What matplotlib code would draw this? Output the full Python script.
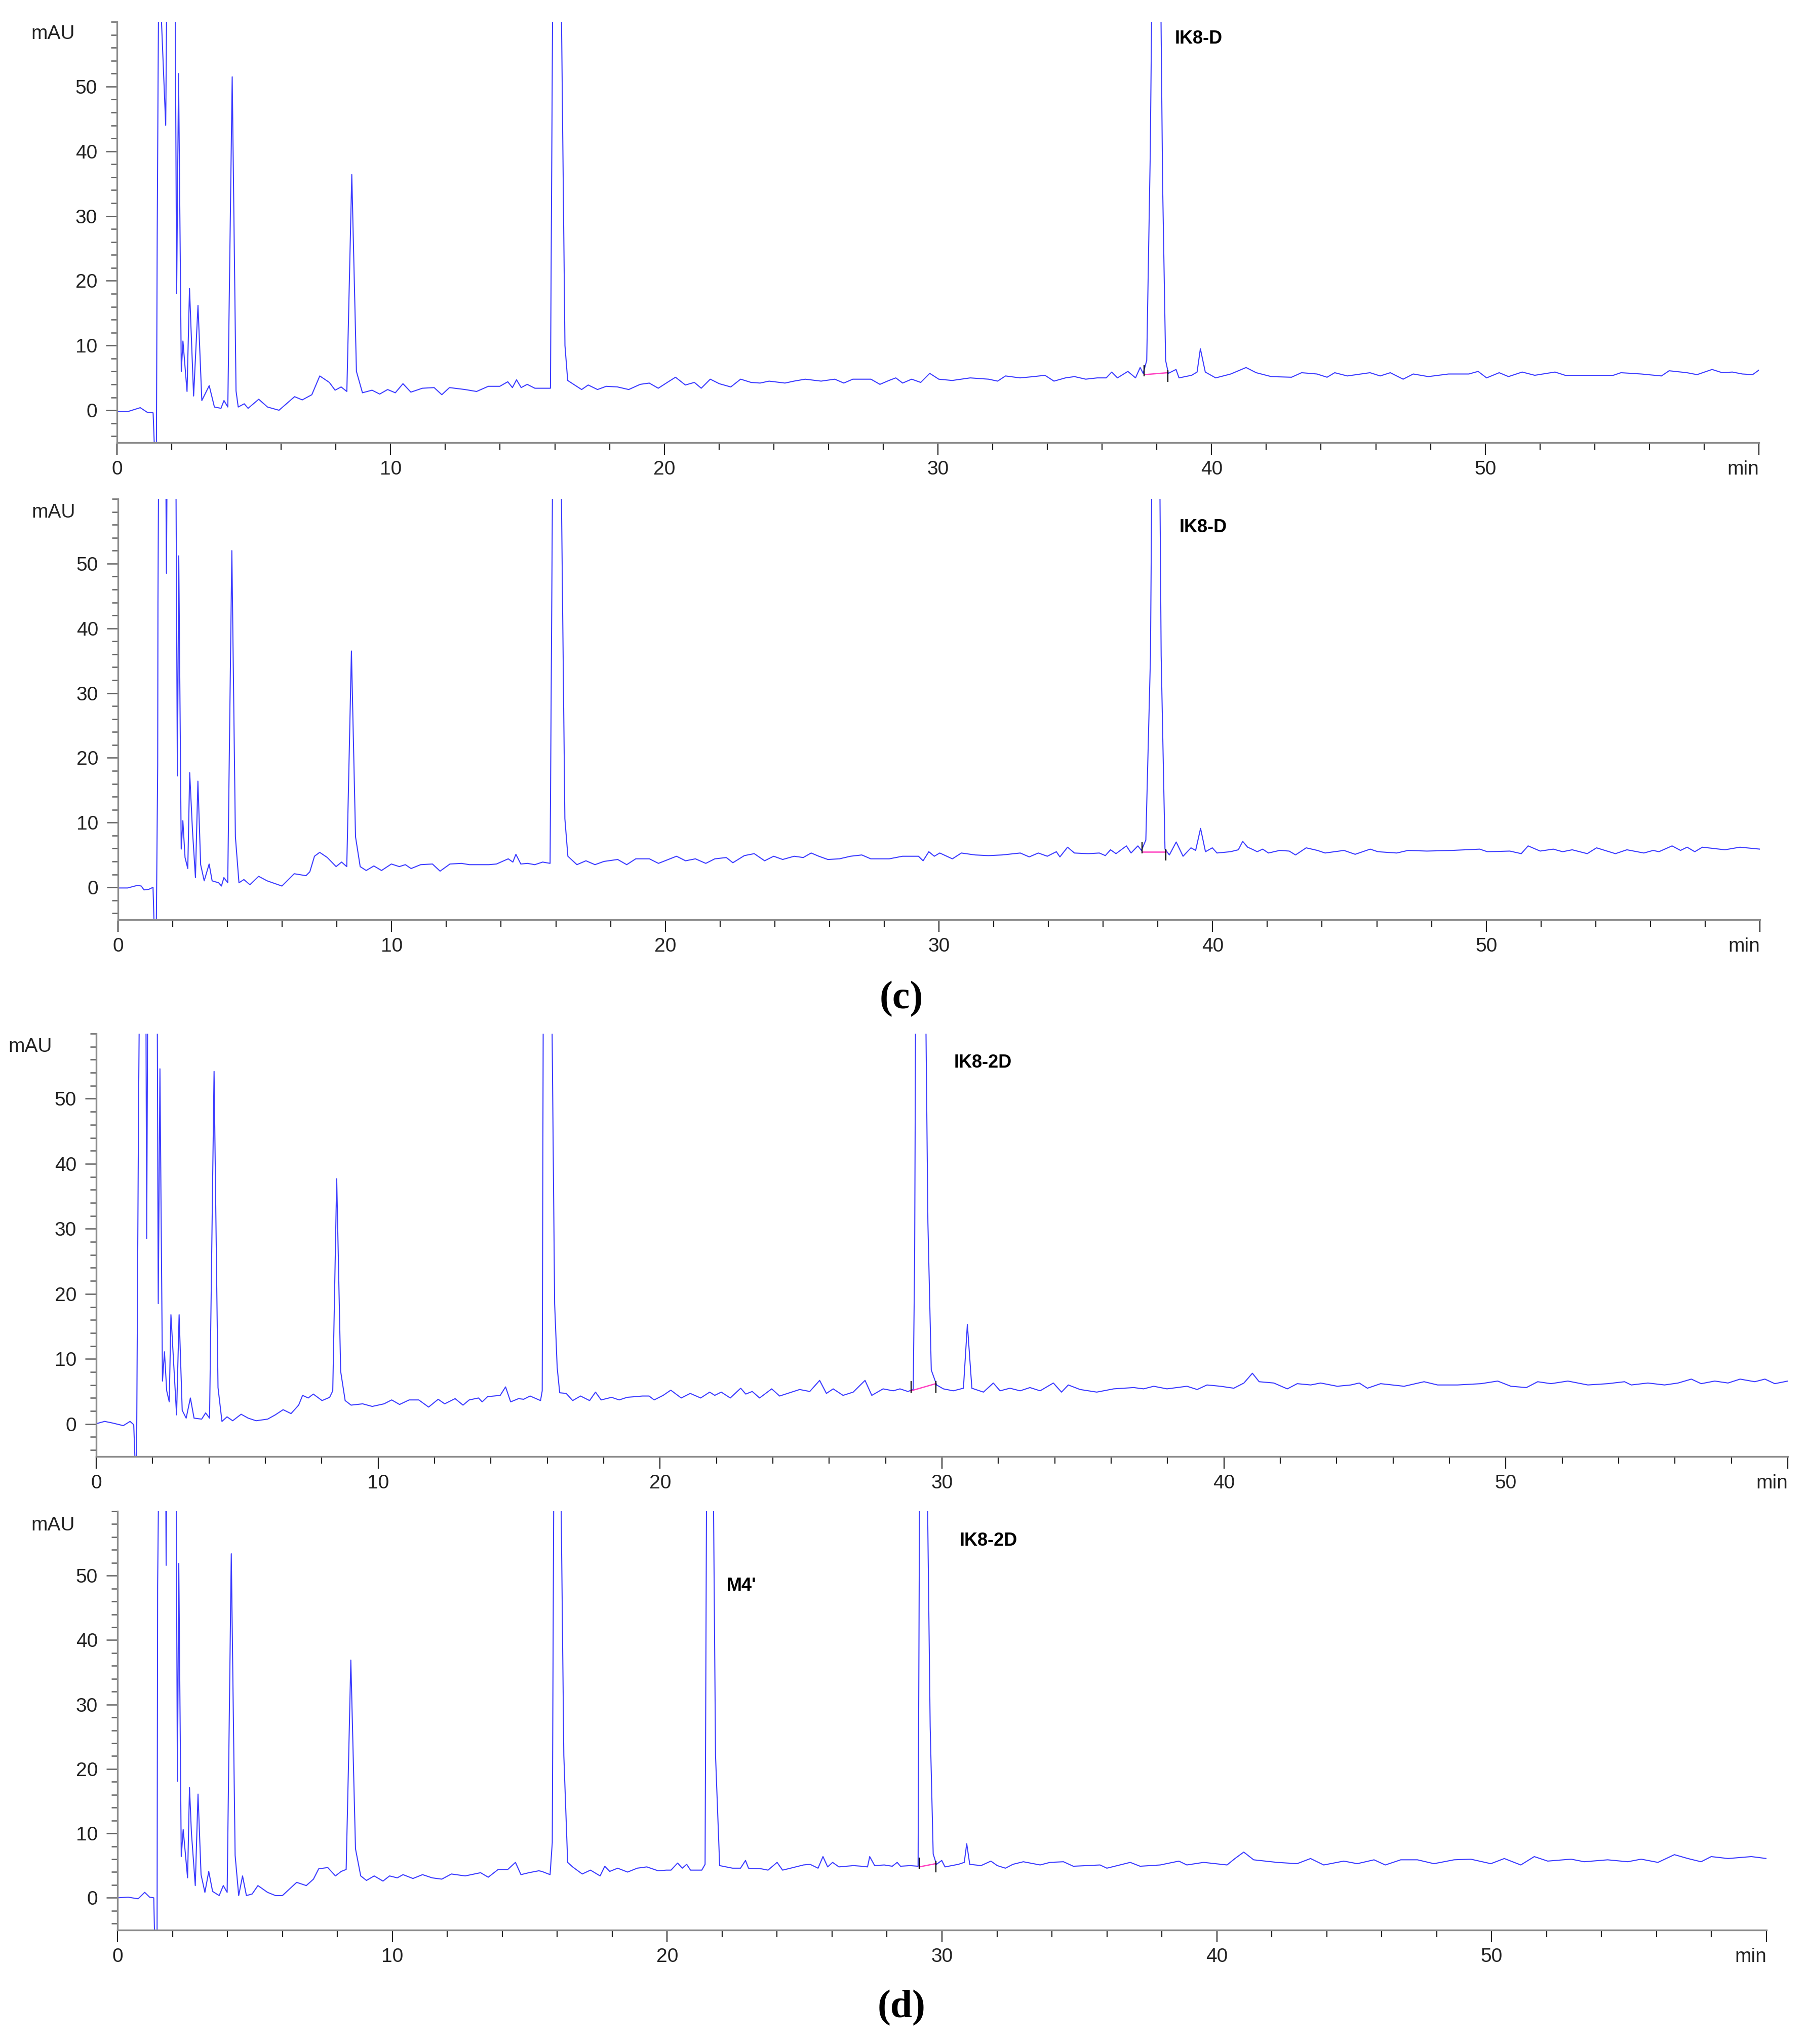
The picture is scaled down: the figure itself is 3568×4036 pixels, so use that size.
import matplotlib
matplotlib.use("Agg")
import matplotlib.pyplot as plt
from matplotlib.ticker import MultipleLocator

plt.rcParams['font.family'] = ['Liberation Sans', 'DejaVu Sans']

# ---------------- data ----------------
x_major = [0, 10, 20, 30, 40, 50, 60]
x_labels = ['0', '10', '20', '30', '40', '50', 'min']
y_major = [0, 10, 20, 30, 40, 50]
y_labels = ['0', '10', '20', '30', '40', '50']

# panel (c) upper
t_c1 = [0.00, 0.40, 0.85, 1.10, 1.32, 1.37, 1.44, 1.47, 1.50, 1.53, 1.78, 1.83, 2.12, 2.18, 2.25, 2.35, 2.41, 2.56,
        2.65, 2.80, 2.96, 3.10, 3.37, 3.56, 3.80, 3.91, 4.05, 4.21, 4.35, 4.43, 4.65, 4.79, 5.18, 5.50, 5.92, 6.49,
        6.77, 7.12, 7.41, 7.76, 7.97, 8.19, 8.40, 8.58, 8.75, 8.97, 9.32, 9.60, 9.89, 10.17, 10.45, 10.74, 11.16,
        11.59, 11.87, 12.15, 12.72, 13.14, 13.57, 13.99, 14.28, 14.45, 14.60, 14.77, 14.99, 15.27, 15.84, 15.93,
        16.22, 16.37, 16.47, 16.65, 16.98, 17.22, 17.56, 17.88, 18.29, 18.70, 19.12, 19.45, 19.78, 20.11, 20.41,
        20.77, 21.10, 21.35, 21.68, 22.01, 22.43, 22.79, 23.17, 23.50, 23.83, 24.41, 24.74, 25.15, 25.73, 26.23,
        26.56, 26.89, 27.55, 27.88, 28.21, 28.46, 28.71, 29.04, 29.37, 29.70, 30.03, 30.52, 31.18, 31.85, 32.18,
        32.47, 33.00, 33.50, 33.91, 34.24, 34.66, 34.99, 35.40, 35.82, 36.15, 36.35, 36.56, 36.94, 37.22, 37.39,
        37.50, 37.63, 37.76, 37.83, 38.13, 38.21, 38.32, 38.42, 38.70, 38.81, 39.27, 39.47, 39.59, 39.77, 40.15,
        40.70, 41.26, 41.63, 42.18, 42.92, 43.29, 43.85, 44.22, 44.50, 44.96, 45.79, 46.16, 46.53, 47.00, 47.37,
        47.92, 48.66, 49.40, 49.74, 50.05, 50.51, 50.85, 51.35, 51.81, 52.55, 52.92, 53.66, 54.68, 54.96, 55.70,
        56.44, 56.72, 57.37, 57.74, 58.29, 58.66, 59.03, 59.40, 59.77, 60.00]
y_c1 = [-0.2, -0.2, 0.4, -0.3, -0.4, -6, -6, 27, 50, 70, 44, 70, 70, 18, 52, 6, 10.7, 2.9,
        18.8, 2.2, 16.2, 1.5, 3.8, 0.5, 0.3, 1.5, 0.5, 51.5, 3.0, 0.5, 1.0, 0.3, 1.7, 0.5, 0.0, 2.1,
        1.6, 2.4, 5.3, 4.3, 3.1, 3.6, 2.9, 36.4, 6.0, 2.7, 3.1, 2.5, 3.2, 2.7, 4.1, 2.8, 3.4,
        3.5, 2.4, 3.5, 3.2, 2.9, 3.7, 3.7, 4.4, 3.5, 4.7, 3.5, 4.0, 3.4, 3.4, 70,
        70, 10.0, 4.6, 4.1, 3.2, 3.9, 3.2, 3.7, 3.6, 3.2, 4.0, 4.2, 3.4, 4.3, 5.1,
        3.9, 4.3, 3.4, 4.8, 4.1, 3.6, 4.8, 4.3, 4.2, 4.5, 4.2, 4.5, 4.8, 4.5, 4.8,
        4.2, 4.8, 4.8, 4.0, 4.6, 5.0, 4.2, 4.8, 4.3, 5.7, 4.8, 4.6, 5.0, 4.8, 4.5,
        5.3, 5.0, 5.2, 5.4, 4.5, 5.0, 5.2, 4.8, 5.0, 5.0, 5.9, 5.0, 6.0, 5.0, 6.6,
        5.7, 7.7, 40.0, 70, 70, 35.0, 7.7, 5.7, 6.3, 5.0, 5.4, 5.9, 9.5, 5.9, 5.0,
        5.6, 6.6, 5.8, 5.2, 5.1, 5.8, 5.6, 5.1, 5.8, 5.3, 5.8, 5.3, 5.8, 4.8, 5.6,
        5.2, 5.6, 5.6, 6.0, 5.0, 5.8, 5.2, 5.9, 5.4, 5.9, 5.4, 5.4, 5.4, 5.8, 5.6,
        5.3, 6.1, 5.8, 5.5, 6.3, 5.8, 5.9, 5.6, 5.5, 6.2]

# panel (c) lower
t_c2 = [0.00, 0.35, 0.71, 0.85, 0.95, 1.13, 1.28, 1.32, 1.40, 1.45, 1.46, 1.49, 1.74, 1.77, 1.80, 2.11, 2.17, 2.22,
        2.31, 2.37, 2.45, 2.55, 2.62, 2.72, 2.83, 2.92, 3.02, 3.15, 3.33, 3.44, 3.68, 3.78, 3.87, 4.01, 4.16, 4.29,
        4.42, 4.60, 4.82, 5.14, 5.45, 5.99, 6.44, 6.87, 7.01, 7.18, 7.37, 7.65, 7.97, 8.17, 8.36, 8.53, 8.68, 8.85,
        9.07, 9.35, 9.63, 9.99, 10.28, 10.50, 10.71, 11.06, 11.49, 11.77, 12.13, 12.55, 12.84, 13.55, 13.83, 14.26,
        14.43, 14.54, 14.72, 14.96, 15.23, 15.52, 15.79, 15.89, 16.18, 16.33,
        16.44, 16.77, 17.10, 17.43, 17.76, 18.26, 18.59, 18.92, 19.42, 19.75, 20.41, 20.74, 21.10, 21.48, 21.81,
        22.23, 22.47, 22.89, 23.25, 23.63, 23.96, 24.29, 24.71, 25.04, 25.33, 25.61, 25.94, 26.36, 26.77, 27.18,
        27.51, 28.18, 28.67, 29.25, 29.42, 29.63, 29.83, 30.03, 30.49, 30.82, 31.32, 31.81, 32.31, 32.97, 33.30,
        33.63, 33.96, 34.29, 34.42, 34.70, 34.95, 35.45, 35.86, 36.08, 36.27, 36.47, 36.85, 37.02, 37.27, 37.40,
        37.56, 37.73, 37.79, 38.06, 38.12, 38.26, 38.42, 38.67, 38.92, 39.21, 39.38, 39.56, 39.74, 39.99, 40.16,
        40.65, 40.94, 41.10, 41.28, 41.49, 41.63, 41.83, 42.04, 42.45, 42.80, 43.03, 43.42, 43.83, 44.11, 44.80,
        45.21, 45.76, 46.04, 46.73, 47.14, 47.83, 48.73, 49.76, 50.04, 50.86, 51.28, 51.53, 51.97, 52.45, 52.79,
        53.14, 53.69, 54.03, 54.72, 55.14, 55.76, 56.10, 56.31, 56.79, 57.10, 57.34, 57.62, 57.90, 58.72, 59.27,
        60.00]
y_c2 = [-0.1, -0.1, 0.3, 0.2, -0.4, -0.3, 0.0, -6, -6, 18.8, 44, 70, 70, 48.5, 70, 70, 17.2, 51.2,
        5.9, 10.3, 4.6, 2.9, 17.7, 8.9, 1.5, 16.4, 3.5, 1.0, 3.6, 1.0, 0.7, 0.2, 1.5, 0.7, 52.0, 7.8,
        0.7, 1.2, 0.4, 1.7, 1.0, 0.2, 2.1, 1.8, 2.4, 4.8, 5.4, 4.6, 3.2, 3.9, 3.2, 36.5, 7.8, 3.2,
        2.6, 3.3, 2.6, 3.6, 3.2, 3.5, 2.9, 3.5, 3.6, 2.5, 3.6, 3.7, 3.5, 3.5, 3.6, 4.4,
        3.9, 5.1, 3.6, 3.7, 3.5, 3.9, 3.7, 70, 70, 10.6,
        4.8, 3.5, 4.1, 3.5, 4.0, 4.3, 3.5, 4.4, 4.4, 3.7, 4.8, 4.1, 4.4, 3.7, 4.4,
        4.6, 3.8, 4.9, 5.2, 4.1, 4.8, 4.3, 4.8, 4.6, 5.3, 4.8, 4.3, 4.4, 4.8, 5.0,
        4.4, 4.4, 4.8, 4.8, 4.1, 5.5, 4.8, 5.3, 4.4, 5.3, 5.0, 4.9, 5.0, 5.3, 4.7,
        5.3, 4.8, 5.5, 4.7, 6.2, 5.3, 5.2, 5.3, 4.9, 5.8, 5.2, 6.4, 5.3, 6.4, 5.7,
        7.3, 35.8, 70, 70, 35.8, 5.9, 5.0, 7.0, 4.8, 6.1, 5.7, 9.1, 5.5, 6.1, 5.3,
        5.5, 5.8, 7.1, 6.2, 5.8, 5.5, 5.9, 5.3, 5.7, 5.6, 5.0, 6.1, 5.7, 5.3, 5.7,
        5.1, 5.9, 5.5, 5.3, 5.7, 5.6, 5.7, 5.9, 5.5, 5.6, 5.2, 6.4, 5.6, 5.9, 5.5,
        5.8, 5.2, 6.1, 5.2, 5.8, 5.3, 5.7, 5.5, 6.4, 5.7, 6.2, 5.5, 6.2, 5.8, 6.2,
        5.9]

# panel (d) upper
t_d1 = [0.00, 0.30, 0.58, 0.96, 1.20, 1.33, 1.38, 1.43, 1.47, 1.50, 1.54, 1.76, 1.79, 1.83, 2.16, 2.20, 2.26, 2.35,
        2.42, 2.50, 2.59, 2.65, 2.75, 2.85, 2.94, 3.05, 3.19, 3.34, 3.47, 3.74, 3.88, 4.02, 4.18, 4.32, 4.46, 4.64,
        4.84, 5.14, 5.39, 5.67, 6.08, 6.35, 6.63, 6.91, 7.18, 7.32, 7.52, 7.70, 8.01, 8.28, 8.39, 8.53, 8.67, 8.83,
        9.04, 9.45, 9.79, 10.21, 10.48, 10.76, 11.10, 11.44, 11.79,
        12.13, 12.36, 12.73, 13.01, 13.23, 13.56, 13.69, 13.88, 14.33, 14.52, 14.70, 14.98, 15.16, 15.39, 15.76,
        15.82, 15.86, 16.15, 16.26, 16.35, 16.44, 16.67, 16.90, 17.18, 17.50, 17.71, 17.91, 18.28, 18.55, 18.83,
        19.38, 19.61, 19.79, 20.11, 20.38, 20.75, 21.07, 21.44, 21.76, 21.94, 22.17, 22.49, 22.86, 23.04, 23.27,
        23.53, 23.96, 24.24, 24.95, 25.31, 25.66, 25.90, 26.14, 26.49, 26.85, 27.27, 27.51, 27.91, 28.27, 28.51,
        28.79, 28.98, 29.03, 29.07, 29.41, 29.50, 29.62, 29.81, 30.05, 30.40, 30.76, 30.90, 31.06, 31.47, 31.82,
        32.06, 32.41, 32.77, 33.12, 33.48, 33.95, 34.24, 34.48, 34.90, 35.49, 36.09, 36.80, 37.15, 37.51, 37.98,
        38.69, 39.05, 39.40, 39.88, 40.35, 40.71, 41.01, 41.25, 41.77, 42.25, 42.60, 43.08, 43.43, 44.02, 44.50,
        44.80, 45.09, 45.56, 46.39, 47.10, 47.58, 48.29, 49.12, 49.71, 50.18, 50.73, 51.13, 51.60, 52.20, 52.91,
        53.62, 54.21, 54.45, 55.04, 55.63, 56.11, 56.58, 56.93, 57.41, 57.88, 58.31, 58.83, 59.19, 59.54, 60.00]
y_d1 = [0.05, 0.4, 0.15, -0.25, 0.4, -0.1, -6, -6, 25, 47.9, 70, 70, 28.5, 70, 70, 18.5, 54.6, 6.6,
        11.1, 5.1, 3.4, 16.8, 9.1, 1.4, 16.8, 2.1, 0.9, 4.0, 0.9, 0.75, 1.7, 0.9, 54.2, 5.6, 0.4, 1.1,
        0.5, 1.5, 0.9, 0.5, 0.75, 1.4, 2.2, 1.6, 2.9, 4.4, 4.0, 4.6, 3.6, 4.1, 5.1, 37.7, 8.1, 3.6,
        2.9, 3.1, 2.7, 3.1, 3.7, 3.0, 3.7, 3.7, 2.6,
        3.8, 3.1, 3.9, 2.9, 3.7, 4.0, 3.4, 4.2, 4.4, 5.7, 3.4, 3.9, 3.8, 4.3, 3.6,
        5.1, 70, 70, 18.5, 8.7, 4.8, 4.7, 3.6, 4.3, 3.6, 4.9, 3.7, 4.1, 3.7, 4.1,
        4.3, 4.3, 3.7, 4.4, 5.2, 4.0, 4.7, 4.0, 4.9, 4.4, 4.9, 4.0, 5.5, 4.6, 5.0,
        4.0, 5.4, 4.3, 5.3, 5.0, 6.7, 4.7, 5.4, 4.4, 4.9, 6.7, 4.4, 5.4, 5.1, 5.4,
        5.0, 5.3, 25.7, 70, 70, 31.0, 8.3, 6.0, 5.4, 5.1, 5.5, 15.3, 5.5, 4.9, 6.3,
        5.1, 5.5, 5.1, 5.6, 5.1, 6.3, 4.9, 6.0, 5.3, 4.9, 5.4, 5.6, 5.4, 5.8, 5.4,
        5.8, 5.3, 6.0, 5.8, 5.5, 6.3, 7.8, 6.5, 6.3, 5.4, 6.2, 6.0, 6.3, 5.8, 6.0,
        6.3, 5.5, 6.2, 5.8, 6.5, 6.0, 6.0, 6.2, 6.6, 5.8, 5.6, 6.5, 6.2, 6.6, 6.0,
        6.2, 6.5, 6.0, 6.3, 6.0, 6.3, 6.9, 6.2, 6.6, 6.3, 6.9, 6.5, 6.9, 6.2, 6.6]

# panel (d) lower
t_d2 = [0.00, 0.39, 0.75, 0.99, 1.17, 1.32, 1.35, 1.44, 1.45, 1.46, 1.51, 1.75, 1.77, 1.80, 2.13, 2.18, 2.23, 2.32,
        2.39, 2.55, 2.62, 2.69, 2.83, 2.93, 3.04, 3.18, 3.32, 3.46, 3.70, 3.85, 3.99, 4.14, 4.28, 4.41, 4.55, 4.69,
        4.90, 5.11, 5.46, 5.75, 6.00, 6.52, 6.87, 7.13, 7.32, 7.65, 7.93, 8.14, 8.32, 8.49, 8.66, 8.85, 9.06, 9.34,
        9.66, 9.90, 10.18, 10.39, 10.75, 11.10, 11.45, 11.80, 12.15, 12.65, 13.21, 13.49, 13.85, 14.20,
        14.48, 14.68, 14.97, 15.33, 15.44, 15.74, 15.82, 15.88, 16.12, 16.24, 16.38, 16.56, 16.91, 17.21, 17.56,
        17.73, 17.91, 18.20, 18.56, 18.91, 19.26, 19.67, 19.97, 20.14, 20.38, 20.55, 20.71, 20.85, 21.26, 21.38,
        21.44, 21.67, 21.76, 21.91, 22.38, 22.67, 22.85, 22.96, 23.43, 23.67, 24.00, 24.20, 24.49, 24.96, 25.20,
        25.49, 25.67, 25.84, 26.02, 26.25, 26.78, 27.08, 27.29, 27.37, 27.55, 27.90, 28.19, 28.37, 28.49, 28.84,
        29.13, 29.19, 29.45, 29.57, 29.68, 29.80, 29.99, 30.11, 30.60, 30.81, 30.90, 31.01, 31.42, 31.78, 32.01,
        32.31, 32.58, 32.96, 33.57, 33.93, 34.42, 34.78, 35.75, 36.00, 36.85, 37.21, 37.94, 38.62, 38.91, 39.52,
        40.37, 40.66, 40.98, 41.34, 42.19, 42.92, 43.41, 43.89, 44.62, 45.11, 45.72, 46.13, 46.69, 47.30, 47.90,
        48.63, 49.24, 49.97, 50.46, 51.06, 51.55, 52.04, 52.89, 53.37, 54.22, 54.95, 55.44, 56.05, 56.65, 57.14,
        57.62, 57.99, 58.60, 59.45, 60.00]
y_d2 = [0.0, 0.1, -0.15, 0.85, 0.1, 0.0, -6, -6, 21.6, 48.4, 70, 70, 51.6, 70, 70, 18.1, 51.9, 6.4,
        10.6, 3.1, 17.1, 10.1, 1.9, 16.1, 3.6, 0.85, 4.1, 1.0, 0.35, 1.9, 0.85, 53.4, 6.6, 0.35, 3.4, 0.35,
        0.6, 1.9, 0.85, 0.35, 0.35, 2.4, 1.9, 2.9, 4.5, 4.7, 3.4, 4.1, 4.4, 36.9, 7.6, 3.4, 2.7, 3.4,
        2.6, 3.4, 3.1, 3.6, 3.0, 3.6, 3.1, 2.9, 3.7, 3.4, 3.9, 3.2, 4.4, 4.4,
        5.5, 3.6, 3.9, 4.2, 4.1, 3.6, 8.6, 70, 70, 22.1, 5.5, 4.8, 3.7, 4.3, 3.4,
        4.9, 4.1, 4.6, 4.0, 4.6, 4.8, 4.2, 4.3, 4.3, 5.4, 4.6, 5.2, 4.3, 4.3, 5.2,
        70, 70, 22.1, 5.0, 4.6, 4.6, 5.8, 4.6, 4.5, 4.3, 5.5, 4.3, 4.6, 5.1, 5.2,
        4.6, 6.4, 4.8, 5.5, 4.8, 5.0, 4.9, 4.8, 6.4, 5.0, 5.1, 4.9, 5.5, 4.9, 5.0,
        4.9, 70, 70, 26.6, 6.8, 5.2, 5.8, 4.8, 5.2, 5.5, 8.4, 5.2, 5.0, 5.7, 5.0,
        4.6, 5.2, 5.6, 5.1, 5.5, 5.6, 4.9, 5.1, 4.6, 5.5, 4.9, 5.1, 5.7, 5.1, 5.5,
        5.1, 6.1, 7.1, 5.9, 5.5, 5.3, 6.1, 5.1, 5.7, 5.3, 5.9, 5.1, 5.9, 5.9, 5.3,
        5.9, 6.0, 5.3, 6.1, 5.1, 6.4, 5.7, 6.0, 5.6, 5.9, 5.6, 6.0, 5.5, 6.7, 6.1,
        5.6, 6.4, 6.1, 6.4, 6.1]

# integration baseline marks: (t_start, t_end, y_start, y_end)
integ_c1 = (37.54, 38.40, 5.5, 5.8)
integ_c2 = (37.43, 38.29, 5.5, 5.5)
integ_d1 = (28.90, 29.78, 5.1, 6.2)
integ_d2 = (29.17, 29.77, 4.8, 5.3)

# peak annotations: (label, t, y)
labels_c1 = [("IK8-D", 38.66, 57.4)]
labels_c2 = [("IK8-D", 38.78, 55.6)]
labels_d1 = [("IK8-2D", 30.43, 55.5)]
labels_d2 = [("M4'", 22.17, 48.4), ("IK8-2D", 30.64, 55.4)]

# ---------------- layout ----------------
W, H = 3568, 4036
DPI = 200
fig = plt.figure(figsize=(W / DPI, H / DPI), dpi=DPI)
fig.patch.set_facecolor('white')

TRACE = '#3c3cff'


def add_axes_px(left, right, top, bottom):
    return fig.add_axes([left / W, 1 - bottom / H, (right - left) / W, (bottom - top) / H])


def style(ax):
    ax.set_xlim(0, 60)
    ax.set_ylim(-5, 60)
    for s in ['top', 'right']:
        ax.spines[s].set_visible(False)
    for s in ['left', 'bottom']:
        ax.spines[s].set_color('#8c8c8c')
        ax.spines[s].set_linewidth(1.2)
    ax.set_xticks(x_major)
    ax.set_xticklabels(x_labels)
    ax.xaxis.set_minor_locator(MultipleLocator(2))
    ax.set_yticks(y_major)
    ax.set_yticklabels(y_labels)
    ax.yaxis.set_minor_locator(MultipleLocator(2))
    ax.tick_params(axis='x', which='major', length=8.5, width=0.8, color='#222222', pad=4,
                   labelsize=14, labelcolor='#222222')
    ax.tick_params(axis='x', which='minor', length=5, width=0.8, color='#222222')
    ax.tick_params(axis='y', which='major', length=8, width=0.9, color='#606060', pad=6,
                   labelsize=14, labelcolor='#222222')
    ax.tick_params(axis='y', which='minor', length=4.5, width=0.9, color='#606060')
    ax.get_xticklabels()[-1].set_ha('right')
    ax.patch.set_alpha(0)


panels = [
    (t_c1, y_c1, integ_c1, labels_c1, (231, 3473, 43, 874), (105, 67)),
    (t_c2, y_c2, integ_c2, labels_c2, (233, 3475, 985, 1816), (106, 1012)),
    (t_d1, y_d1, integ_d1, labels_d1, (190, 3530, 2041, 2876), (60, 2067)),
    (t_d2, y_d2, integ_d2, labels_d2, (232, 3488, 2984, 3811), (105, 3012)),
]

for t, y, integ, labs, geo, mau in panels:
    ax = add_axes_px(*geo)
    style(ax)
    ax.plot(t, y, color=TRACE, lw=0.75, solid_joinstyle='round')
    ts, te, ys, ye = integ
    ax.plot([ts, te], [ys, ye], color='#ff40c0', lw=0.9)
    ax.plot([ts, ts], [ys - 0.2, ys + 1.4], color='black', lw=0.8)
    ax.plot([te, te], [ye - 1.3, ye + 0.3], color='black', lw=0.8)
    for txt, lx, ly in labs:
        ax.text(lx, ly, txt, fontsize=13, fontweight='bold', ha='left', va='center', color='black')
    fig.text(mau[0] / W, 1 - mau[1] / H, 'mAU', fontsize=14, ha='center', va='center', color='#222222')

fig.text(1780 / W, 1 - 1973 / H, '(c)', fontsize=28, fontweight='bold', ha='center', va='center',
         family=['Liberation Serif', 'DejaVu Serif'])
fig.text(1780 / W, 1 - 3965 / H, '(d)', fontsize=28, fontweight='bold', ha='center', va='center',
         family=['Liberation Serif', 'DejaVu Serif'])

fig.savefig('out.png', dpi=DPI, facecolor='white')
